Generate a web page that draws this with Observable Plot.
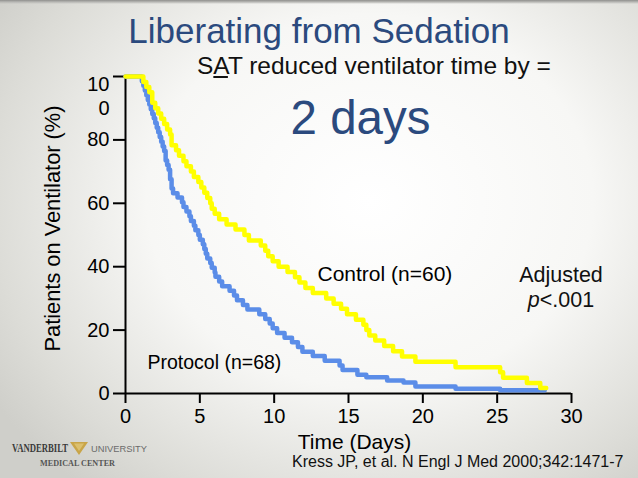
<!DOCTYPE html>
<html><head><meta charset="utf-8">
<script src="https://cdn.jsdelivr.net/npm/d3@7"></script>
<script src="https://cdn.jsdelivr.net/npm/@observablehq/plot@0.6"></script>
<style>
html,body{margin:0;padding:0;}
body{width:638px;height:478px;overflow:hidden;font-family:"Liberation Sans",Arial,sans-serif;}
#wrap{position:relative;width:638px;height:478px;
  background:
    linear-gradient(to bottom,#8f8f8d 0px,#b8b8b5 2px,rgba(255,255,255,0) 4px),
    radial-gradient(ellipse 70% 78% at 58% 42%,#ffffff 0%,#f7f7f5 50%,#dcdcd7 85%,#cfcfca 100%);}
#title{margin:0;height:58px;box-sizing:border-box;padding-top:13px;font-weight:normal;font-size:35px;line-height:35px;color:#2b4a7e;text-align:center;white-space:nowrap;}
#chart svg{display:block;}
.ov{position:absolute;white-space:nowrap;color:#111;}
#sat{left:197px;top:54px;font-size:24.5px;line-height:1;}
#adj{left:511px;top:263px;width:100px;text-align:center;font-size:21.5px;line-height:25px;}
#cite{left:292px;top:454px;font-size:16px;line-height:1;}
#logo{position:absolute;left:0;top:438px;}
</style></head>
<body>
<div id="wrap">
  <h1 id="title">Liberating from Sedation</h1>
  <div id="chart"></div>
  <div id="sat" class="ov">S<u>A</u>T reduced ventilator time by =</div>
  <div id="adj" class="ov">Adjusted<br><i>p</i>&lt;.001</div>
  <div id="cite" class="ov">Kress JP, et al. N Engl J Med 2000;342:1471-7</div>
  <svg id="logo" width="160" height="36" viewBox="0 0 160 36">
    <text x="12" y="14" font-family="Liberation Serif,DejaVu Serif,serif" font-weight="bold" font-size="12" fill="#3a3a3a" textLength="56" lengthAdjust="spacingAndGlyphs">VANDERBILT</text>
    <path d="M70,4 L88,4 L79,17 Z" fill="#c9a548"/>
    <path d="M74,5.5 L84,5.5 L79,13 Z" fill="#dcc06e"/>
    <text x="91" y="14" font-family="Liberation Sans,Arial,sans-serif" font-size="9.5" fill="#6b6b6b" textLength="56" lengthAdjust="spacingAndGlyphs">UNIVERSITY</text>
    <text x="40" y="28" font-family="Liberation Serif,DejaVu Serif,serif" font-weight="bold" font-size="8" fill="#555" textLength="75" lengthAdjust="spacingAndGlyphs">MEDICAL CENTER</text>
  </svg>
</div>
<script>
// Kaplan-Meier estimates (days, % on ventilator)
const controlDays = [0,1.2,1.4,1.6,1.8,2.0,2.2,2.4,2.6,2.8,3.0,3.1,3.4,3.6,3.9,4.1,4.4,4.6,4.9,5.1,5.3,5.5,5.7,5.8,6.0,6.3,6.8,7.4,8.0,8.3,9.1,9.4,9.6,9.9,10.3,10.9,11.4,11.7,12.1,12.6,13.5,14.0,14.5,14.9,15.5,16.0,16.2,16.4,16.8,17.4,18.0,18.6,19.5,22.2,25.2,25.4,27.0,27.9,28.3];
const controlPct  = [100,98.3,96.7,95,91.7,90,88.3,86.7,85,83.3,81.7,78.3,76.7,75,73.3,71.7,70,68.3,66.7,65,63.3,61.7,60,58.3,56.7,55,53.3,51.7,50,48.3,46.7,45,43.3,41.7,40,38.3,36.7,35,33.3,31.7,30,28.3,26.7,25,23.3,21.7,20,18.3,16.7,15,13.3,11.7,10,8.3,6.7,5,3.3,1.7,1.7];
const protocolDays = [0,1.1,1.2,1.3,1.4,1.5,1.6,1.7,1.8,1.9,2.0,2.1,2.2,2.3,2.4,2.5,2.6,2.7,2.8,2.9,3.0,3.1,3.2,3.5,3.8,3.9,4.1,4.3,4.4,4.6,4.7,4.9,5.0,5.2,5.3,5.4,5.5,5.7,5.8,6.0,6.05,6.3,6.5,7.0,7.3,7.5,7.9,8.2,9.0,9.4,9.7,9.9,10.2,10.7,11.2,11.6,11.9,12.6,13.4,14.4,14.6,15.6,16.2,17.6,18.7,19.5,22.2,25.2,28.2];
const protocolPct  = [100,98.5,97.1,95.6,94.1,92.6,91.2,89.7,88.2,86.8,85.3,83.8,82.4,80.9,79.4,77.9,76.5,73.5,72.1,70.6,67.6,64.7,63.2,61.8,60.3,58.8,57.4,55.9,54.4,52.9,51.5,50,48.5,47.1,45.6,44.1,42.6,41.2,39.7,38.2,36.8,35.3,33.8,32.4,30.9,29.4,27.9,26.5,25,23.5,22.1,20.6,19.1,17.6,16.2,14.7,13.2,11.8,10.3,8.8,7.4,5.9,5.1,4.1,3.5,2.2,1.5,1.0,1.0];
const xTicks = [0,5,10,15,20,25,30];
const yTicks = [0,20,40,60,80,100];
const xDomain = [0,30];
const yDomain = [0,100];

const control = controlDays.map((t,i) => ({t, p: controlPct[i]}));
const protocol = protocolDays.map((t,i) => ({t, p: protocolPct[i]}));

const chart = Plot.plot({
  width: 638, height: 420,
  marginLeft: 125, marginRight: 67, marginTop: 18, marginBottom: 85,
  style: {fontFamily: '"Liberation Sans", Arial, sans-serif', fontSize: "20px", background: "transparent", color: "#000", overflow: "visible"},
  x: {domain: xDomain},
  y: {domain: yDomain},
  marks: [
    Plot.axisX({ticks: xTicks, tickSize: 10, tickPadding: 5, strokeWidth: 2, fontSize: 20, label: null}),
    Plot.axisY({ticks: yTicks, tickFormat: d => d === 100 ? "" : d, tickSize: 12, tickPadding: 4, strokeWidth: 2, fontSize: 20, label: null}),
    Plot.text(["10\n0"], {frameAnchor: "top-left", dx: -16, dy: -3, textAnchor: "end", lineAnchor: "top", lineHeight: 1.2, fontSize: 20}),
    Plot.ruleY([yDomain[0]], {stroke: "#000", strokeWidth: 2}),
    Plot.ruleX([xDomain[0]], {stroke: "#000", strokeWidth: 2}),
    Plot.line(protocol, {x: "t", y: "p", curve: "step-after", stroke: "#5b8de8", strokeWidth: 4.5}),
    Plot.line(control, {x: "t", y: "p", curve: "step-after", stroke: "#ffff00", strokeWidth: 4.5}),
    Plot.text(["Patients on Ventilator (%)"], {frameAnchor: "left", rotate: -90, textAnchor: "middle", lineAnchor: "middle", dx: -72, dy: -6.5, fontSize: 21.8}),
    Plot.text(["Time (Days)"], {frameAnchor: "bottom", dx: 6, dy: 55, lineAnchor: "bottom", fontSize: 21}),
    Plot.text(["2 days"], {frameAnchor: "top-left", dx: 235, dy: 57, textAnchor: "middle", lineAnchor: "bottom", fontSize: 47.5, fill: "#2b4a7e"}),
    Plot.text(["Control (n=60)"], {frameAnchor: "top-left", dx: 192, dy: 204, textAnchor: "start", lineAnchor: "bottom", fontSize: 21}),
    Plot.text(["Protocol (n=68)"], {frameAnchor: "top-left", dx: 22, dy: 292, textAnchor: "start", lineAnchor: "bottom", fontSize: 19.5})
  ]
});
document.getElementById("chart").appendChild(chart);
</script>
</body></html>
